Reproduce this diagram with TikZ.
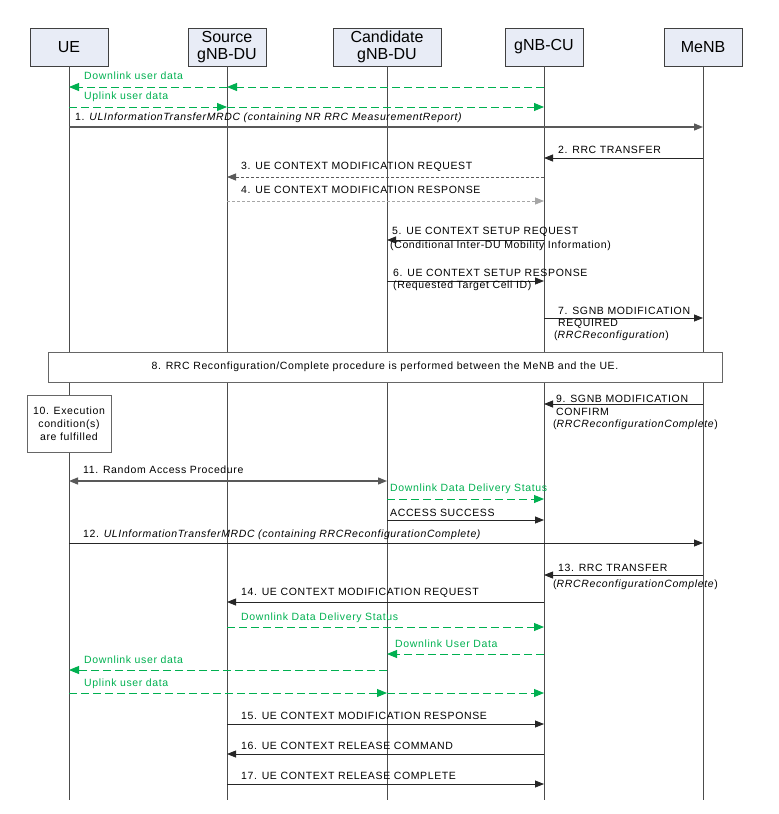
\documentclass[tikz,border=0pt]{standalone}
\usepackage{fontspec}
\setmainfont{Liberation Sans}
\newfontfamily\lbfont[LetterSpace=6]{Liberation Sans}
\usetikzlibrary{arrows.meta}
\definecolor{grn}{RGB}{0,176,80}
\definecolor{hdr}{RGB}{232,236,246}
\begin{document}
\begin{tikzpicture}[x=1pt,y=-1pt,
  hd/.style={draw=black!75,fill=hdr,minimum width=78pt,minimum height=38pt,inner sep=1pt,align=center,font=\fontsize{16}{17}\selectfont,line width=0.8pt},
  life/.style={draw=black!70,line width=0.7pt},
  msg/.style={draw=black!85,line width=0.8pt,-{Triangle[length=9pt,width=7pt]}},
  gmsg/.style={draw=grn,dashed,dash pattern=on 8pt off 4pt,line width=0.9pt,-{Triangle[length=10pt,width=8pt]}},
  lb/.style={anchor=west,inner sep=0pt,font=\lbfont\fontsize{10.5}{12}\selectfont,align=left},
  glb/.style={lb,text=grn},
  bx/.style={draw=black!60,fill=white,line width=0.8pt,font=\lbfont\fontsize{10.5}{13}\selectfont,align=center}]
\useasboundingbox (0,0) rectangle (779,814);
\node[hd] (ue) at (69,47) {UE};
\node[hd] (src) at (227,47) {Source\\gNB-DU};
\node[hd,minimum width=108pt] (cand) at (387,47) {Candidate\\gNB-DU};
\node[hd] (cu) at (544,47) {gNB-CU};
\node[hd] (menb) at (703,47) {MeNB};
\foreach \n in {ue,src,cand,cu,menb} {\coordinate (\n-end) at (\n |- 0,800); \draw[life] (\n.south) -- (\n-end);}
% green DL/UL
\draw[gmsg] (cu |- 0,87) -- (src |- 0,87);
\draw[gmsg] (src |- 0,87) -- (ue |- 0,87);
\node[glb] at (84,76) {Downlink user data};
\draw[gmsg] (ue |- 0,107) -- (src |- 0,107);
\draw[gmsg] (src |- 0,107) -- (cu |- 0,107);
\node[glb] at (84,97) {Uplink user data};
% 1
\draw[msg,line width=1.3pt,draw=black!65] (ue |- 0,127) -- (menb |- 0,127);
\node[lb] at (75,118) {1. \textit{ULInformationTransferMRDC (containing NR RRC MeasurementReport)}};
\draw[msg] (menb |- 0,158) -- (cu |- 0,158);
\node[lb] at (558,150) {2. RRC TRANSFER};
\draw[msg,draw=black!65,dashed,dash pattern=on 3pt off 2pt] (cu |- 0,177) -- (src |- 0,177);
\node[lb] at (241,167) {3. UE CONTEXT MODIFICATION REQUEST};
\draw[msg,draw=black!35,dashed,dash pattern=on 3pt off 2pt] (src |- 0,201) -- (cu |- 0,201);
\node[lb] at (241,190) {4. UE CONTEXT MODIFICATION RESPONSE};
\draw[msg] (cu |- 0,240) -- (cand |- 0,240);
\node[lb] at (392,232) {5. UE CONTEXT SETUP REQUEST};
\node[lb] at (390,246) {(Conditional Inter-DU Mobility Information)};
\draw[msg] (cand |- 0,281) -- (cu |- 0,281);
\node[lb] at (393,273) {6. UE CONTEXT SETUP RESPONSE};
\node[lb] at (393,286) {(Requested Target Cell ID)};
\draw[msg] (cu |- 0,318) -- (menb |- 0,318);
\node[lb] at (558,311) {7. SGNB MODIFICATION};
\node[lb] at (558,324) {REQUIRED};
\node[lb] at (554,336) {(\textit{RRCReconfiguration})};
\node[bx,minimum width=674pt,minimum height=30pt,inner sep=0pt] (b8) at (385,367) {8. RRC Reconfiguration/Complete procedure is performed between the MeNB and the UE.};
\draw[msg] (menb |- 0,404) -- (cu |- 0,404);
\node[lb] at (556,399) {9. SGNB MODIFICATION};
\node[lb] at (556,412) {CONFIRM};
\node[lb] at (553,425) {(\textit{RRCReconfigurationComplete})};
\node[bx,minimum width=84pt,minimum height=57pt,inner sep=1pt] (b10) at (69,423.5) {10. Execution\\condition(s)\\are fulfilled};
\draw[msg,line width=1.3pt,draw=black!65,{Triangle[length=9pt,width=7pt]}-{Triangle[length=9pt,width=7pt]}] (ue |- 0,481) -- (cand |- 0,481);
\node[lb] at (83,470) {11. Random Access Procedure};
\draw[gmsg] (cand |- 0,499) -- (cu |- 0,499);
\node[glb] at (390,489) {Downlink Data Delivery Status};
\draw[msg] (cand |- 0,520) -- (cu |- 0,520);
\node[lb] at (390,513) {ACCESS SUCCESS};
\draw[msg] (ue |- 0,543) -- (menb |- 0,543);
\node[lb] at (83,535) {12. \textit{ULInformationTransferMRDC (containing RRCReconfigurationComplete)}};
\draw[msg] (menb |- 0,575) -- (cu |- 0,575);
\node[lb] at (558,568) {13. RRC TRANSFER};
\node[lb] at (553,585) {(\textit{RRCReconfigurationComplete})};
\draw[msg] (cu |- 0,602) -- (src |- 0,602);
\node[lb] at (241,593) {14. UE CONTEXT MODIFICATION REQUEST};
\draw[gmsg] (src |- 0,627) -- (cu |- 0,627);
\node[glb] at (241,618) {Downlink Data Delivery Status};
\draw[gmsg] (cu |- 0,654) -- (cand |- 0,654);
\node[glb] at (395,644) {Downlink User Data};
\draw[gmsg] (cand |- 0,670) -- (ue |- 0,670);
\node[glb] at (84,660) {Downlink user data};
\draw[gmsg] (ue |- 0,693) -- (cand |- 0,693);
\draw[gmsg] (cand |- 0,693) -- (cu |- 0,693);
\node[glb] at (84,684) {Uplink user data};
\draw[msg] (src |- 0,724) -- (cu |- 0,724);
\node[lb] at (241,716) {15. UE CONTEXT MODIFICATION RESPONSE};
\draw[msg] (cu |- 0,754) -- (src |- 0,754);
\node[lb] at (241,746) {16. UE CONTEXT RELEASE COMMAND};
\draw[msg] (src |- 0,784) -- (cu |- 0,784);
\node[lb] at (241,776) {17. UE CONTEXT RELEASE COMPLETE};
\end{tikzpicture}
\end{document}
